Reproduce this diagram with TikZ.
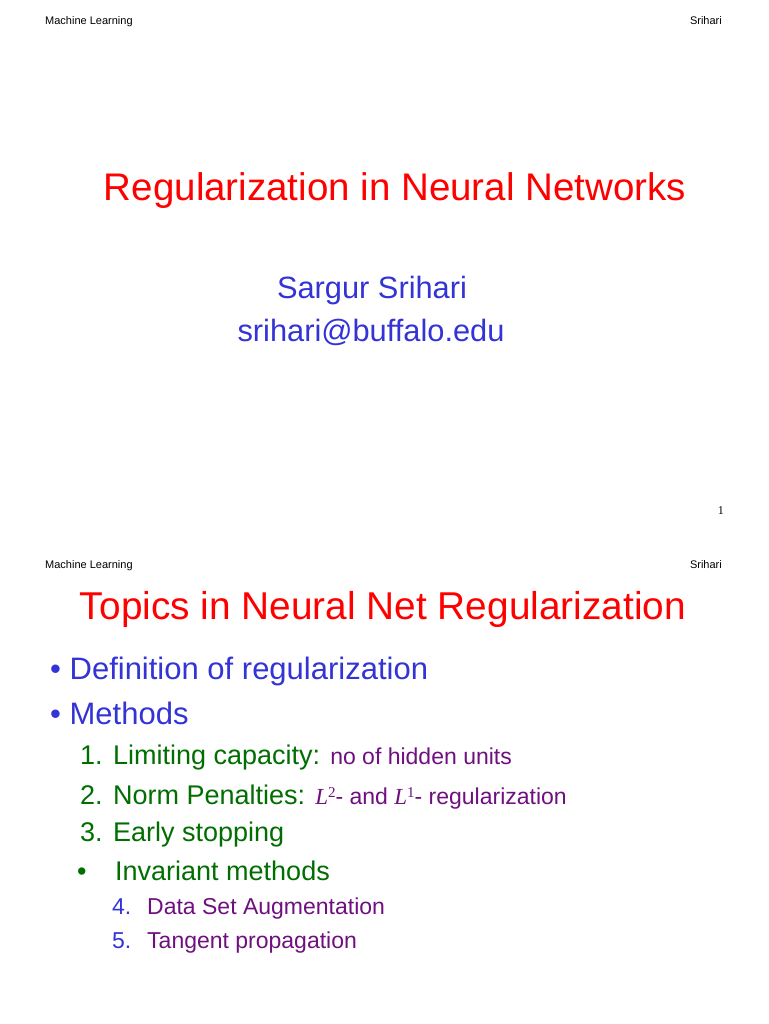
\documentclass[tikz,border=0pt]{standalone}
\usepackage{fontspec}
\setmainfont{Liberation Sans}
\newfontfamily\serifit{Liberation Serif}
\definecolor{tred}{RGB}{255,0,0}
\definecolor{tblue}{RGB}{51,51,214}
\definecolor{tgreen}{RGB}{0,110,0}
\definecolor{tpurple}{RGB}{112,16,128}
\begin{document}
\begin{tikzpicture}[x=1pt,y=-1pt,
  hdr/.style={font=\fontsize{11}{13}\selectfont,anchor=base,inner sep=0pt},
  txt/.style={anchor=base west,inner sep=0pt}]
\useasboundingbox[fill=white] (0,0) rectangle (768,1024);
% slide 1
\node[hdr,anchor=base west] (h1l) at (45,25) {Machine Learning};
\node[hdr,anchor=base east] (h1r) at (722,25) {Srihari};
\node[anchor=base,text=tred,font=\fontsize{38.5}{42}\selectfont] (t1) at (395,201) {Regularization in Neural Networks};
\node[anchor=base,text=tblue,font=\fontsize{30.8}{34}\selectfont] (au) at (372,298) {Sargur Srihari};
\node[anchor=base,text=tblue,font=\fontsize{30.8}{34}\selectfont] (em) at (371,341) {srihari@buffalo.edu};
\node[anchor=base east,inner sep=0pt,font=\serifit\fontsize{12}{14}\selectfont] (pg) at (724,514) {1};
% slide 2
\node[hdr,anchor=base west] (h2l) at (45,568) {Machine Learning};
\node[hdr,anchor=base east] (h2r) at (722,568) {Srihari};
\node[anchor=base,text=tred,font=\fontsize{38.8}{42}\selectfont] (t2) at (383,619) {Topics in Neural Net Regularization};
\node[txt,text=tblue,font=\fontsize{31}{34}\selectfont] (b1) at (50,679) {\textbullet\ Definition of regularization};
\node[txt,text=tblue,font=\fontsize{31}{34}\selectfont] (b2) at (50,724) {\textbullet\ Methods};
\node[txt,text=tgreen,font=\fontsize{27}{30}\selectfont] (n1) at (80,764) {1.};
\node[txt,font=\fontsize{27}{30}\selectfont] (i1) at (113,764) {\color{tgreen}Limiting capacity: \color{tpurple}\fontsize{23}{26}\selectfont no of hidden units};
\node[txt,text=tgreen,font=\fontsize{27}{30}\selectfont] (n2) at (80,804) {2.};
\node[txt,font=\fontsize{27}{30}\selectfont] (i2) at (113,804) {\color{tgreen}Norm Penalties: \color{tpurple}\fontsize{23}{26}\selectfont{\serifit\itshape L}\raisebox{0.3em}{\serifit\fontsize{15}{17}\selectfont 2}- and {\serifit\itshape L}\raisebox{0.3em}{\serifit\fontsize{15}{17}\selectfont 1}- regularization};
\node[txt,text=tgreen,font=\fontsize{27}{30}\selectfont] (n3) at (80,841) {3.};
\node[txt,text=tgreen,font=\fontsize{27}{30}\selectfont] (i3) at (113,841) {Early stopping};
\node[txt,text=tgreen,font=\fontsize{27}{30}\selectfont] (n4) at (77,880) {\textbullet};
\node[txt,text=tgreen,font=\fontsize{27}{30}\selectfont] (i4) at (115,880) {Invariant methods};
\node[txt,text=tblue,font=\fontsize{23}{26}\selectfont] (n5) at (112,914) {4.};
\node[txt,text=tpurple,font=\fontsize{23}{26}\selectfont] (i5) at (147,914) {Data Set Augmentation};
\node[txt,text=tblue,font=\fontsize{23}{26}\selectfont] (n6) at (112,948) {5.};
\node[txt,text=tpurple,font=\fontsize{23}{26}\selectfont] (i6) at (147,948) {Tangent propagation};
\end{tikzpicture}
\end{document}
